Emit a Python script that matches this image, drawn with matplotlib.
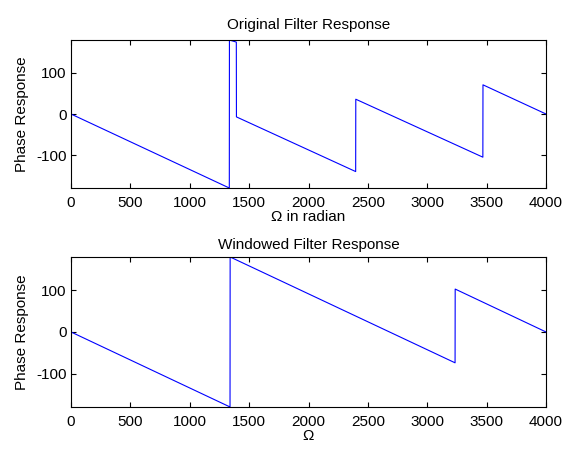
import matplotlib
matplotlib.use('Agg')
import matplotlib.pyplot as plt

# breakpoints of the phase curves
omega_orig = [0, 1333, 1334, 1392, 1393, 2397, 2398, 3468, 3469, 4000]
phase_orig = [0, -180, 180, 175, -7, -140, 36, -105, 71, 0]

omega_win = [0, 1339, 1340, 3234, 3235, 4000]
phase_win = [0, -180, 180, -74, 103, 0]

xticks = [0, 500, 1000, 1500, 2000, 2500, 3000, 3500, 4000]
yticks = [-100, 0, 100]

plt.rcParams['font.family'] = ['Liberation Sans', 'DejaVu Sans']
plt.rcParams['font.size'] = 11
plt.rcParams['axes.unicode_minus'] = False

fig = plt.figure(figsize=(5.83, 4.58), dpi=100)
ax1 = fig.add_axes([0.1218, 0.5895, 0.8148, 0.3231])
ax2 = fig.add_axes([0.1218, 0.1114, 0.8148, 0.3275])


def style(ax):
    ax.set_xlim(0, 4000)
    ax.set_ylim(-180, 180)
    ax.set_xticks(xticks)
    ax.set_yticks(yticks)
    ax.tick_params(direction='in', length=3.5, width=0.8, top=True, right=True)
    ax.tick_params(axis='x', pad=5.5)
    ax.tick_params(axis='y', pad=3)
    for s in ax.spines.values():
        s.set_linewidth(0.8)
    ax.set_ylabel('Phase Response', labelpad=5)


ax1.plot(omega_orig, phase_orig, color='#0000ff', linewidth=0.8)
style(ax1)
ax1.set_title('Original Filter Response', fontsize=11, pad=8)
ax1.set_xlabel('Ω in radian', labelpad=0)

ax2.plot(omega_win, phase_win, color='#0000ff', linewidth=0.8)
style(ax2)
ax2.set_title('Windowed Filter Response', fontsize=11, pad=6)
ax2.set_xlabel('Ω', labelpad=0)

fig.savefig('out.png', dpi=100)
